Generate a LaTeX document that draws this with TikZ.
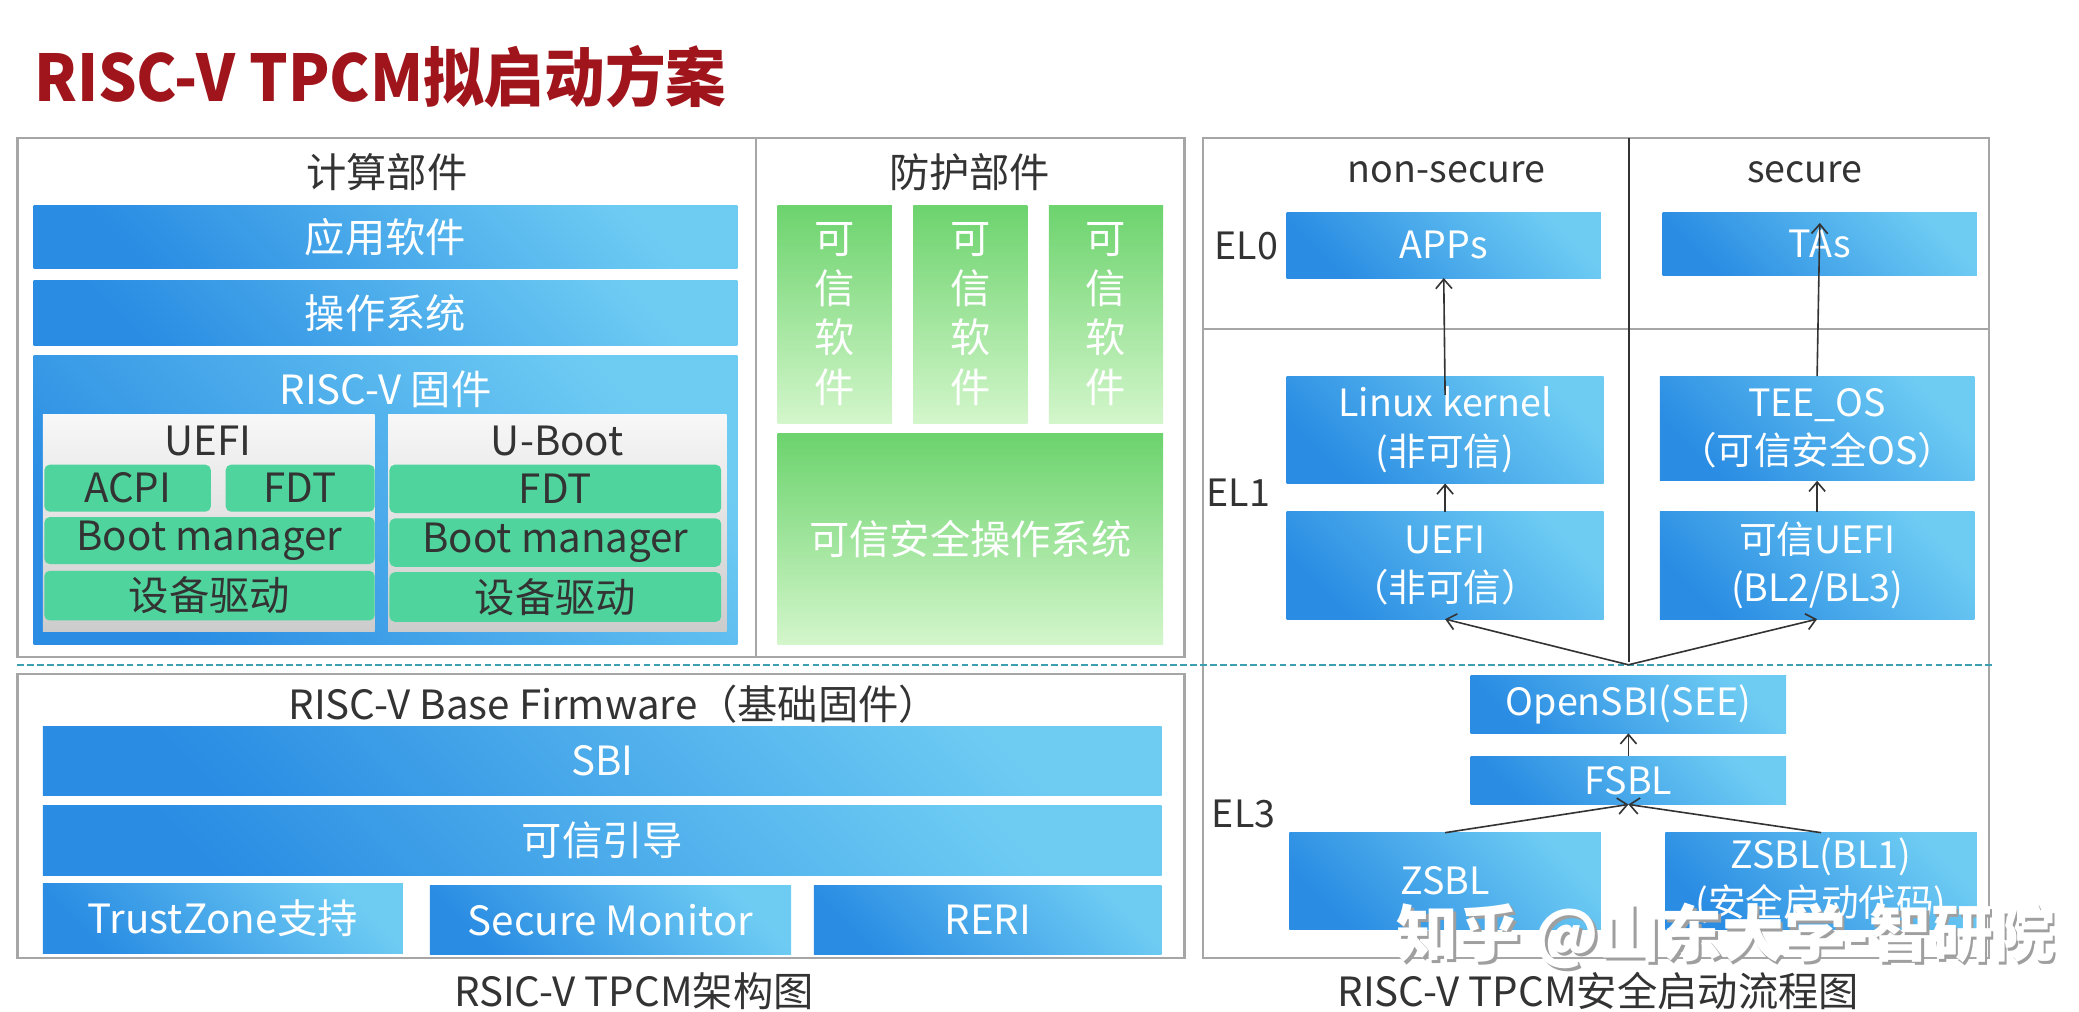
\documentclass[tikz,border=0pt]{standalone}
\usepackage{fontspec}
\setmainfont{Noto Sans CJK SC}
\usetikzlibrary{arrows.meta}

\definecolor{titlered}{HTML}{A0151C}
\definecolor{framegray}{HTML}{A6A6A6}
\definecolor{txtgray}{HTML}{333333}
\definecolor{bluedark}{HTML}{2A8CE3}
\definecolor{bluelight}{HTML}{6ECCF3}
\definecolor{mint}{HTML}{50D49E}
\definecolor{greentop}{HTML}{6CD36D}
\definecolor{greenbot}{HTML}{D3F6CB}
\definecolor{dashteal}{HTML}{3C9FB2}

\newcommand{\fsz}[1]{\fontsize{#1pt}{#1pt}\selectfont}
% name, style, x1, y1, x2, y2, text
\newcommand{\blok}[7]{%
  \node[#2, minimum width={(#5-#3)*0.5pt}, minimum height={(#6-#4)*0.5pt}]
    (#1) at ({(#3+#5)/2},{(#4+#6)/2}) {#7};}

\tikzset{
  blk/.style={inner sep=0pt, outer sep=0pt, align=center},
  bluebar/.style={blk, top color=bluelight, bottom color=bluedark, shading angle=-45,
    text=white, font=\fontsize{15pt}{18pt}\selectfont},
  flowbar/.style={bluebar, font=\fontsize{14pt}{18pt}\selectfont},
  graybox/.style={blk, top color=gray!6, bottom color=gray!40},
  mintbox/.style={blk, fill=mint, rounded corners=2pt, text=txtgray, font=\fsz{15}},
  greenbox/.style={blk, top color=greentop, bottom color=greenbot, text=white,
    font=\fontsize{15pt}{18.5pt}\selectfont},
  head/.style={inner sep=0pt, text=txtgray, font=\fsz{15}},
  label/.style={inner sep=0pt, text=txtgray, font=\fsz{14}},
  frame/.style={draw=framegray, line width=0.8pt},
  flow/.style={draw=txtgray, line width=0.6pt, -{Straight Barb[length=3.5pt,width=6pt]}},
}

\begin{document}
\begin{tikzpicture}[x=0.5pt, y=-0.5pt]
  \useasboundingbox (0,0) rectangle (1548,753.5);

  % title
  \node[anchor=west, inner sep=0pt, text=titlered, font=\bfseries\fsz{24}] (title) at (25,57) {\scalebox{0.94}[1]{RISC-V TPCM拟启动方案}};

  % frames
  \draw[frame] (13,103) rectangle (882,489);
  \draw[frame] (563,103) -- (563,489);
  \draw[frame] (13,502) rectangle (882,713);
  \draw[frame] (896,103) rectangle (1481,713);
  \draw[frame] (896,245) -- (1481,245);
  \draw[txtgray, line width=0.6pt] (1213,103) -- (1213,493);
  \draw[dashteal, line width=0.7pt, dash pattern=on 2.5pt off 1.2pt] (13,495) -- (1484,495);

  % compute part
  \node[head] (hcomp) at (288,128) {计算部件};
  \blok{app}{bluebar}{25}{153}{549}{200}{应用软件}
  \blok{os}{bluebar}{25}{209}{549}{257}{操作系统}
  \blok{fw}{bluebar}{25}{265}{549}{480}{}
  \node[inner sep=0pt, text=white, font=\fsz{15}] (fwlabel) at (287,290) {RISC-V 固件};
  \blok{uefi}{graybox}{32}{309}{279}{470}{}
  \node[head] (uefilabel) at (155,328) {UEFI};
  \blok{uboot}{graybox}{289}{309}{541}{470}{}
  \node[head] (ubootlabel) at (415,328) {U-Boot};
  \blok{acpi}{mintbox}{33}{346}{157}{381}{ACPI}
  \blok{fdta}{mintbox}{168}{346}{279}{381}{FDT}
  \blok{bma}{mintbox}{33}{385}{279}{420}{Boot manager}
  \blok{drva}{mintbox}{33}{425}{279}{462}{设备驱动}
  \blok{fdtb}{mintbox}{290}{346}{537}{382}{FDT}
  \blok{bmb}{mintbox}{290}{386}{537}{422}{Boot manager}
  \blok{drvb}{mintbox}{290}{426}{537}{463}{设备驱动}

  % protection part
  \node[head] (hprot) at (722,128) {防护部件};
  \foreach \i/\x in {1/579, 2/680, 3/781}{
    \blok{tsw\i}{greenbox}{\x}{153}{\x+85}{315}{可\\信\\软\\件}
  }
  \blok{tos}{greenbox}{579}{323}{866}{480}{可信安全操作系统}

  % base firmware
  \node[head] (hbase) at (457,524) {RISC-V Base Firmware（基础固件）};
  \blok{sbi}{bluebar}{32}{541}{865}{592}{SBI}
  \blok{tboot}{bluebar}{32}{600}{865}{652}{可信引导}
  \blok{tz}{bluebar}{32}{658}{300}{710}{TrustZone支持}
  \blok{smon}{bluebar}{320}{659}{589}{711}{Secure Monitor}
  \blok{reri}{bluebar}{606}{659}{865}{711}{RERI}
  \node[head] (cap1) at (472,738) {RSIC-V TPCM架构图};

  % boot flow
  \node[label] (hns) at (1077,128) {non-secure};
  \node[label] (hs) at (1344,128) {secure};
  \node[label] (el0) at (928,183) {EL0};
  \node[label] (el1) at (922,367) {EL1};
  \node[label] (el3) at (926,606) {EL3};
  \blok{apps}{flowbar}{958}{158}{1192}{207}{APPs}
  \blok{tas}{flowbar}{1238}{158}{1472}{205}{TAs}
  \blok{lk}{flowbar}{958}{280}{1194}{360}{Linux kernel\\(非可信)}
  \blok{nuefi}{flowbar}{958}{381}{1194}{461}{UEFI\\（非可信）}
  \blok{tee}{flowbar}{1236}{280}{1470}{358}{TEE\_OS\\（可信安全OS）}
  \blok{tuefi}{flowbar}{1236}{381}{1470}{461}{可信UEFI\\(BL2/BL3)}
  \blok{osbi}{flowbar}{1095}{503}{1330}{546}{OpenSBI(SEE)}
  \blok{fsbl}{flowbar}{1095}{563}{1330}{599}{FSBL}
  \blok{zsbl}{flowbar}{960}{620}{1192}{692}{ZSBL}
  \blok{zsblb}{flowbar}{1240}{620}{1472}{692}{ZSBL(BL1)\\(安全启动代码)}
  \node[head] (cap2) at (1190,738) {RISC-V TPCM安全启动流程图};

  \draw[flow] ([yshift=-7pt]lk.north) -- (apps.south);
  \draw[flow] (nuefi.north) -- (lk.south);
  \draw[flow] (tee.north) -- ([yshift=-4pt]tas.north);
  \draw[flow] (tuefi.north) -- (tee.south);
  \coordinate (fork) at ([yshift=4pt]osbi.north);
  \draw[flow] (fork) -- (nuefi.south);
  \draw[flow] (fork) -- (tuefi.south);
  \draw[flow] (fsbl.north) -- (osbi.south);
  \draw[flow] (zsbl.north) -- (fsbl.south);
  \draw[flow] (zsblb.north) -- (fsbl.south);

  % watermark
  \node[inner sep=0pt, text=gray!75, font=\bfseries\fsz{23}] (wmshade) at (1287,699) {知乎 @山东大学-智研院};
  \node[inner sep=0pt, text=white, font=\bfseries\fsz{23}] (wm) at ([xshift=-1pt,yshift=1pt]wmshade.center) {知乎 @山东大学-智研院};
\end{tikzpicture}
\end{document}
